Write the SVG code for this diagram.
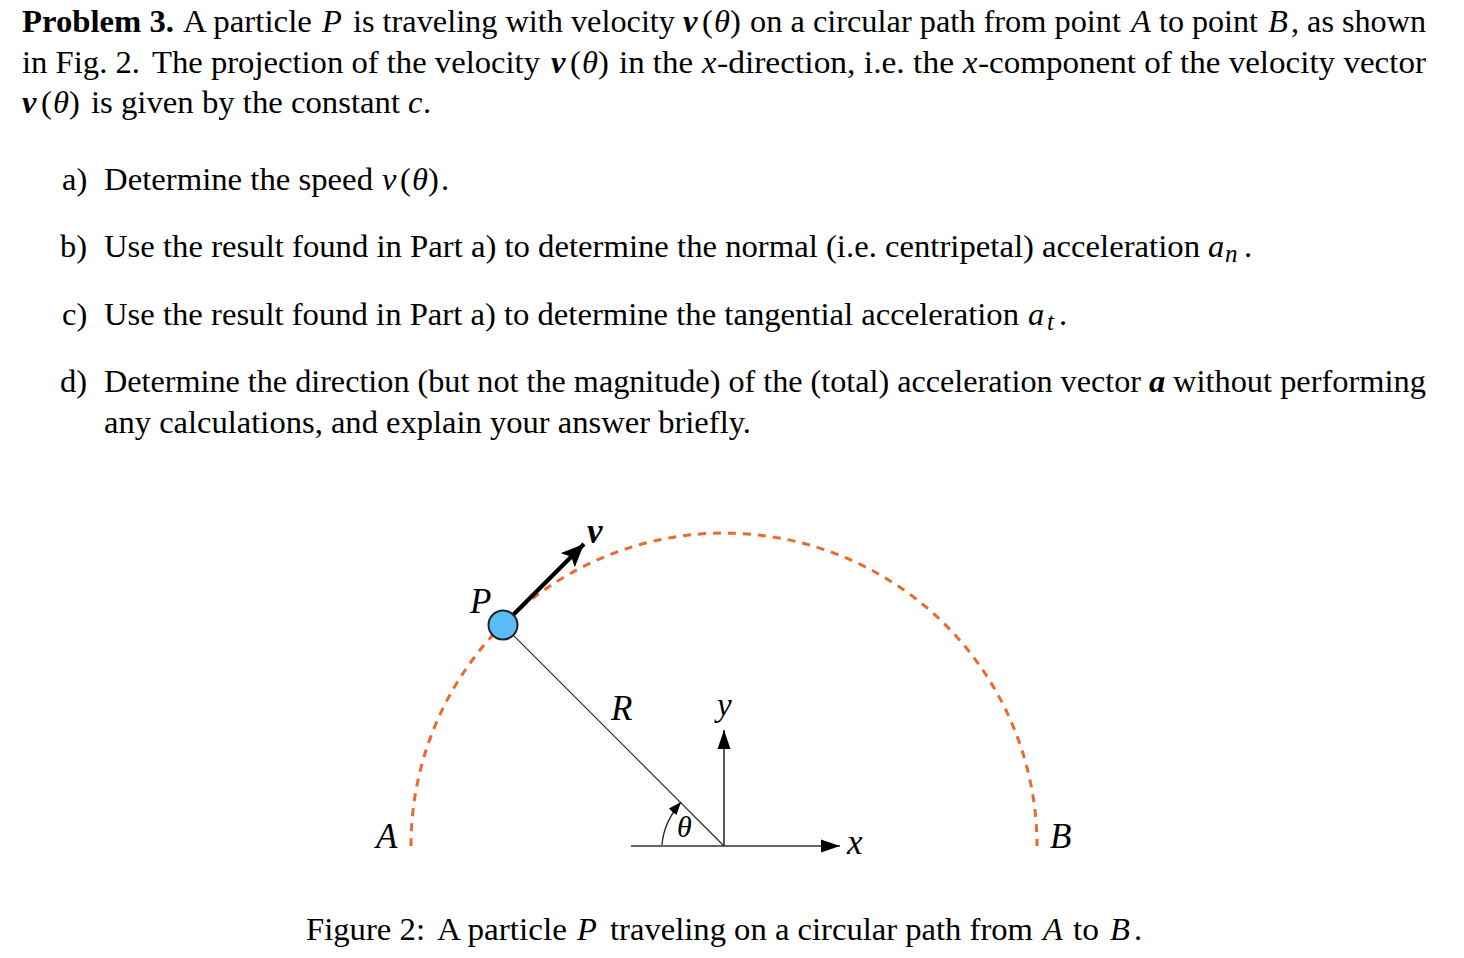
<svg xmlns="http://www.w3.org/2000/svg" width="1464" height="958" viewBox="0 0 1464 958">
<style>
text{font-family:"Liberation Serif","Times New Roman",serif;font-size:32.5px;fill:#000}
.i{font-style:italic}
.b{font-weight:bold}
.bi{font-weight:bold;font-style:italic}
.s{font-size:25px;font-style:italic}
.lab{font-size:35px;font-style:italic}
.thin{stroke:#222;stroke-width:1.1;fill:none}
.axis{stroke:#333;stroke-width:1.6;fill:none}
</style>
<defs>
<marker id="ax" markerUnits="userSpaceOnUse" markerWidth="20" markerHeight="14" refX="19" refY="7" orient="auto"><path d="M0,0.5 L19,7 L0,13.5Z" fill="#000"/></marker>
<marker id="vh" markerUnits="userSpaceOnUse" markerWidth="24" markerHeight="20" refX="23" refY="10" orient="auto"><path d="M0,0 L23,10 L0,20 L5,10Z" fill="#000"/></marker>
<marker id="th" markerUnits="userSpaceOnUse" markerWidth="14" markerHeight="10" refX="13" refY="5" orient="auto"><path d="M0,0 L13,5 L0,10Z" fill="#000"/></marker>
</defs>
<g id="problem-text">
<text x="22" y="32" class="b" textLength="152" lengthAdjust="spacingAndGlyphs">Problem 3.</text>
<text x="183" y="32" textLength="129" lengthAdjust="spacingAndGlyphs">A particle</text>
<text x="322" y="32" class="i">P</text>
<text x="353" y="32" textLength="322" lengthAdjust="spacingAndGlyphs">is traveling with velocity</text>
<text x="683" y="32" class="bi">v</text>
<text x="702" y="32">(</text><text x="714" y="32" class="i">θ</text><text x="730" y="32">)</text>
<text x="750" y="32" textLength="371" lengthAdjust="spacingAndGlyphs">on a circular path from point</text>
<text x="1131" y="32" class="i">A</text>
<text x="1159" y="32" textLength="99" lengthAdjust="spacingAndGlyphs">to point</text>
<text x="1268" y="32" class="i">B</text>
<text x="1291" y="32" textLength="135" lengthAdjust="spacingAndGlyphs">, as shown</text>

<text x="22" y="73" textLength="118" lengthAdjust="spacingAndGlyphs">in Fig. 2.</text>
<text x="152" y="73" textLength="388" lengthAdjust="spacingAndGlyphs">The projection of the velocity</text>
<text x="551" y="73" class="bi">v</text>
<text x="570" y="73">(</text><text x="582" y="73" class="i">θ</text><text x="598" y="73">)</text>
<text x="619" y="73" textLength="74" lengthAdjust="spacingAndGlyphs">in the</text>
<text x="702" y="73" class="i">x</text>
<text x="717" y="73" textLength="237" lengthAdjust="spacingAndGlyphs">-direction, i.e. the</text>
<text x="963" y="73" class="i">x</text>
<text x="978" y="73" textLength="448" lengthAdjust="spacingAndGlyphs">-component of the velocity vector</text>

<text x="22" y="113" class="bi">v</text>
<text x="41" y="113">(</text><text x="53" y="113" class="i">θ</text><text x="69" y="113">)</text>
<text x="91" y="113" textLength="309" lengthAdjust="spacingAndGlyphs">is given by the constant</text>
<text x="408" y="113" class="i">c</text>
<text x="423" y="113">.</text>

<text x="62" y="190">a)</text>
<text x="104" y="190" textLength="269" lengthAdjust="spacingAndGlyphs">Determine the speed</text>
<text x="382" y="190" class="i">v</text>
<text x="400" y="190">(</text><text x="412" y="190" class="i">θ</text><text x="428" y="190">)</text><text x="441" y="190">.</text>

<text x="60" y="257">b)</text>
<text x="104" y="257" textLength="1096" lengthAdjust="spacingAndGlyphs">Use the result found in Part a) to determine the normal (i.e. centripetal) acceleration</text>
<text x="1208" y="257" class="i">a</text>
<text x="1225" y="262" class="s">n</text>
<text x="1244" y="257">.</text>

<text x="62" y="325">c)</text>
<text x="104" y="325" textLength="915" lengthAdjust="spacingAndGlyphs">Use the result found in Part a) to determine the tangential acceleration</text>
<text x="1028" y="325" class="i">a</text>
<text x="1047" y="330" class="s">t</text>
<text x="1059" y="325">.</text>

<text x="60" y="392">d)</text>
<text x="104" y="392" textLength="1037" lengthAdjust="spacingAndGlyphs">Determine the direction (but not the magnitude) of the (total) acceleration vector</text>
<text x="1149" y="392" class="bi">a</text>
<text x="1173" y="392" textLength="253" lengthAdjust="spacingAndGlyphs">without performing</text>
<text x="104" y="433" textLength="647" lengthAdjust="spacingAndGlyphs">any calculations, and explain your answer briefly.</text>
</g>
<g id="connectors">
<path id="path-AB" d="M411,846 A313,313 0 0 1 1037,846" fill="none" stroke="#ea6a2c" stroke-width="3" stroke-dasharray="8 7.01"/>
<line id="radius" class="thin" x1="503" y1="625" x2="724" y2="846"/>
<line id="x-axis" class="axis" x1="631" y1="846" x2="840" y2="846" marker-end="url(#ax)"/>
<line id="y-axis" class="axis" x1="724" y1="846" x2="724" y2="730" marker-end="url(#ax)"/>
<path id="theta-arc" class="thin" style="stroke-width:1.3" d="M662,845 C663,830 670,815 681,802" marker-end="url(#th)"/>
<line id="velocity" x1="503" y1="625" x2="584" y2="544" stroke="#000" stroke-width="4.2" marker-end="url(#vh)"/>
</g>
<g id="particle-P"><circle cx="503" cy="625" r="14.5" fill="#5bbcf8" stroke="#222" stroke-width="2"/><text x="470" y="613" class="lab">P</text></g>
<g id="label-v"><text x="587" y="543" class="bi" style="font-size:35px">v</text></g>
<g id="label-R"><text x="611" y="720" class="lab">R</text></g>
<g id="label-y"><text x="717" y="716" class="lab" style="font-size:33px">y</text></g>
<g id="label-theta"><text x="677" y="837" class="lab" style="font-size:30px">θ</text></g>
<g id="label-x"><text x="847" y="854" class="lab">x</text></g>
<g id="point-A"><text x="376" y="848" class="lab">A</text></g>
<g id="point-B"><text x="1050" y="848" class="lab">B</text></g>
<g id="caption">
<text x="306" y="940" textLength="119" lengthAdjust="spacingAndGlyphs">Figure 2:</text>
<text x="437" y="940" textLength="130" lengthAdjust="spacingAndGlyphs">A particle</text>
<text x="577" y="940" class="i">P</text>
<text x="610" y="940" textLength="423" lengthAdjust="spacingAndGlyphs">traveling on a circular path from</text>
<text x="1043" y="940" class="i">A</text>
<text x="1073" y="940" textLength="26" lengthAdjust="spacingAndGlyphs">to</text>
<text x="1110" y="940" class="i">B</text>
<text x="1134" y="940">.</text>
</g>
</svg>
